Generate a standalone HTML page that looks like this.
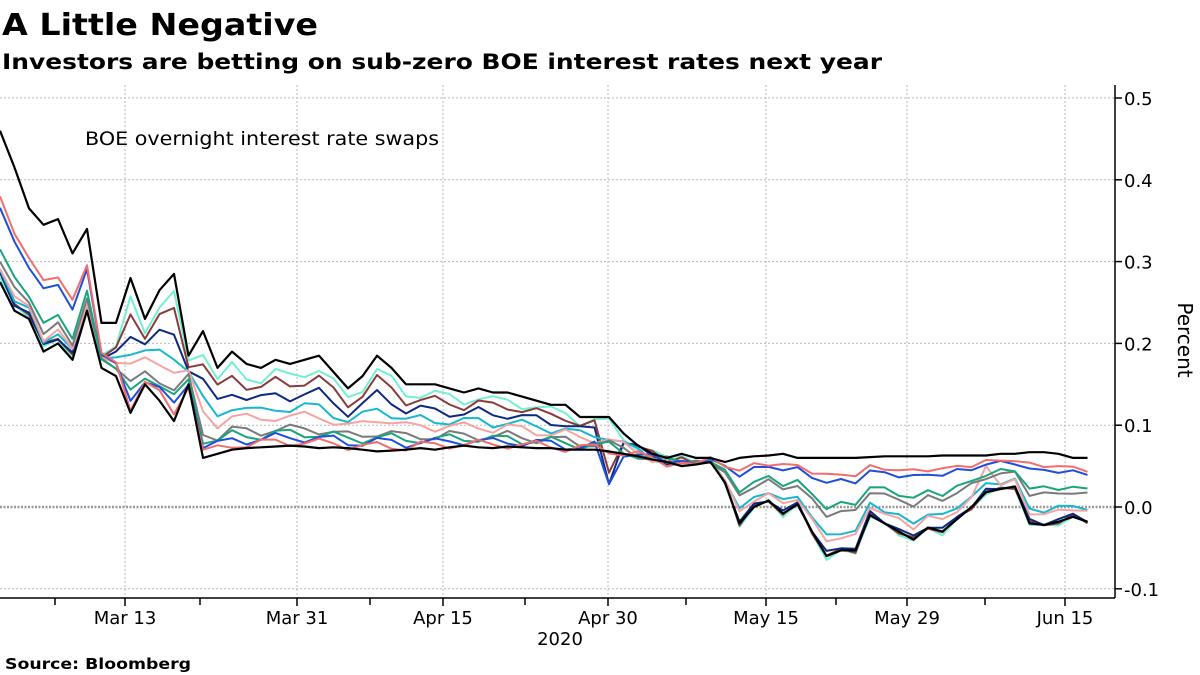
<!DOCTYPE html>
<html><head><meta charset="utf-8"><style>
html,body{margin:0;padding:0;background:#fff;width:1200px;height:675px;overflow:hidden}
svg{display:block}
text{font-family:"DejaVu Sans","Liberation Sans",sans-serif}
</style></head><body>
<svg id="s" width="1200" height="675" viewBox="0 0 1200 675" xmlns="http://www.w3.org/2000/svg">
<text x="2" y="35" font-size="30" font-weight="bold" textLength="316" lengthAdjust="spacingAndGlyphs">A Little Negative</text>
<text x="2" y="69" font-size="21" font-weight="bold" textLength="880" lengthAdjust="spacingAndGlyphs">Investors are betting on sub-zero BOE interest rates next year</text>
<g id="grid" stroke="#bbb" stroke-width="1" stroke-dasharray="2,2"></g>
<line x1="0" y1="507" x2="1115" y2="507" stroke="#999" stroke-width="2.5" stroke-dasharray="2,1.5"/>
<text x="85" y="145" font-size="19" textLength="354" lengthAdjust="spacingAndGlyphs">BOE overnight interest rate swaps</text>
<g id="lines" fill="none" stroke-width="2" stroke-linejoin="round"></g>
<line x1="1115" y1="85" x2="1115" y2="598" stroke="#000" stroke-width="1.5"/>
<line x1="0" y1="598" x2="1115" y2="598" stroke="#000" stroke-width="1.5"/>
<g id="ax" font-size="18"></g>
<text x="560" y="645" font-size="18" text-anchor="middle">2020</text>
<text transform="translate(1178,340) rotate(90)" font-size="20" text-anchor="middle">Percent</text>
<text x="5" y="669" font-size="15" font-weight="bold" textLength="186" lengthAdjust="spacingAndGlyphs">Source: Bloomberg</text>
</svg>
<script>
(function(){
var NS="http://www.w3.org/2000/svg";
function el(p,t,a,txt){var e=document.createElementNS(NS,t);for(var k in a)e.setAttribute(k,a[k]);if(txt)e.textContent=txt;p.appendChild(e);return e;}
var g=document.getElementById('grid'),ax=document.getElementById('ax'),L=document.getElementById('lines');
function Y(v){return 507-v*818;}
[0.5,0.4,0.3,0.2,0.1,-0.1].forEach(function(v){el(g,'line',{x1:0,x2:1115,y1:Y(v),y2:Y(v)});});
var vx=[125,297,443,608,766,907,1065],lab=["Mar 13","Mar 31","Apr 15","Apr 30","May 15","May 29","Jun 15"];
vx.forEach(function(x,i){el(g,'line',{x1:x,x2:x,y1:85,y2:598});el(ax,'line',{x1:x,x2:x,y1:598,y2:606,stroke:'#000','stroke-width':1.5});
el(ax,'text',{x:x,y:624,'text-anchor':'middle'},lab[i]);});
[55,200,370,525,686,836,985].forEach(function(x){el(ax,'line',{x1:x,x2:x,y1:598,y2:605,stroke:'#000','stroke-width':1.5});});
[[0.5,"0.5"],[0.4,"0.4"],[0.3,"0.3"],[0.2,"0.2"],[0.1,"0.1"],[0,"0.0"],[-0.1,"-0.1"]].forEach(function(a){
el(ax,'line',{x1:1115,x2:1122,y1:Y(a[0]),y2:Y(a[0]),stroke:'#000','stroke-width':1.5});
el(ax,'text',{x:1124,y:Y(a[0])+7},a[1]);});
var tp=[.46,.415,.365,.345,.352,.31,.34,.225,.225,.28,.23,.265,.285,.185,.215,.17,.19,.175,.17,.18,.175,.18,.185,.165,.145,.16,.185,.17,.15,.15,.15,.145,.14,.145,.14,.14,.135,.13,.125,.125,.11,.11,.11,.09,.075,.065,.06,.065,.06,.06,.055,.06,.062,.063,.065,.06,.06,.06,.06,.06,.061,.062,.062,.062,.062,.063,.063,.063,.063,.065,.065,.067,.067,.065,.06,.06];
var bot=[.275,.24,.23,.19,.2,.18,.24,.17,.16,.115,.15,.13,.105,.15,.06,.065,.07,.072,.073,.074,.075,.074,.072,.073,.072,.07,.068,.069,.07,.072,.07,.073,.075,.073,.072,.074,.073,.072,.072,.07,.07,.07,.068,.065,.062,.058,.055,.05,.052,.055,.03,-.02,0,.008,-.008,.003,-.03,-.06,-.053,-.053,-.01,-.02,-.03,-.04,-.025,-.03,-.015,0,.018,.022,.025,-.02,-.022,-.018,-.012,-.018];
var S=[["#72f0d2",.03,.85,-.02],["#8a3b3b",.05,.75,0],["#0d2a80",.05,.6,.03],["#17b8cf",.08,.45,.2],["#f5a3a3",.1,.35,.15],["#7a7a7a",.15,.2,.42],["#1aa57c",.22,.15,.5],["#1f4ed8",.48,.1,.75],["#f26d6d",.55,.05,.82]];
function fr(s,i){if(i<7)return s[1];if(i<9)return s[1]+(s[2]-s[1])*(i-6)/3;if(i<47)return s[2];if(i<50)return s[2]+(s[3]-s[2])*(i-46)/4;return s[3];}
function draw(vals,c,w){var p="";for(var i=0;i<vals.length;i++){p+=(i?"L":"M")+(i*14.5).toFixed(1)+","+Y(vals[i]).toFixed(1);}el(L,'path',{d:p,stroke:c,'stroke-width':w||2});}
S.forEach(function(s,k){var v=[];for(var i=0;i<76;i++){var f=fr(s,i);var n=(i>8&&i<47)?0.006*Math.sin(i*1.7+k):0.003*Math.sin(i*2.3+k);v.push(bot[i]+f*(tp[i]-bot[i])+n);}
if(s[0]=="#0d2a80"||s[0]=="#1f4ed8")v[42]=0.028;if(s[0]=="#8a3b3b")v[42]=0.042;
if(s[0]=="#f5a3a3"){v[68]=0.05;}
draw(v,s[0]);});
draw(bot,"#000",2.2);draw(tp,"#000",2.2);
})();
</script>
</body></html>
